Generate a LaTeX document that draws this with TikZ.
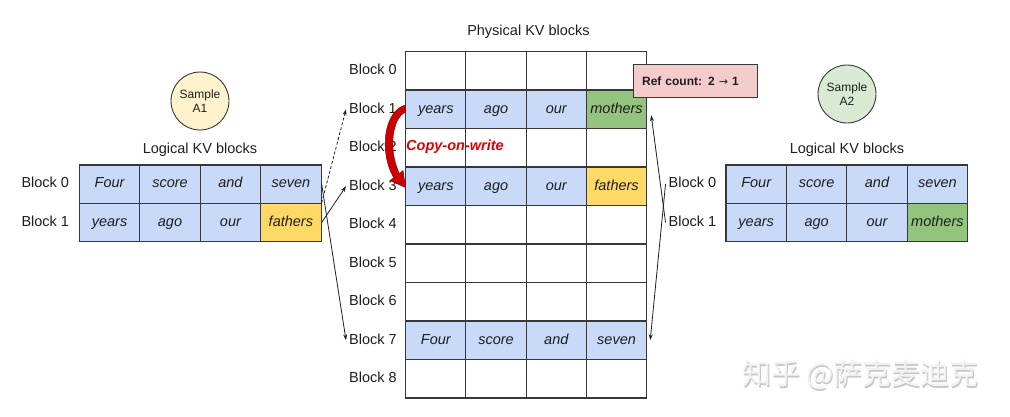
\documentclass[tikz,border=0pt]{standalone}
\usepackage{fontspec}
\setmainfont{Liberation Sans}
\newfontfamily\cjk{Noto Sans CJK SC}
\newfontfamily\dvs{DejaVu Sans}
\usetikzlibrary{arrows.meta,calc}
\definecolor{linec}{HTML}{383838}
\definecolor{textc}{HTML}{1E1E1E}
\definecolor{bluec}{HTML}{C9DAF8}
\definecolor{yelc}{HTML}{FFD966}
\definecolor{grnc}{HTML}{93C47D}
\definecolor{sa1c}{HTML}{FFF2CC}
\definecolor{sa2c}{HTML}{D9EAD3}
\definecolor{refc}{HTML}{F4CCCC}
\definecolor{cowred}{HTML}{E00000}
\definecolor{arrred}{HTML}{CC0000}
\begin{document}
\begin{tikzpicture}[x=1pt,y=-1pt,
  cell/.style={draw=linec, line width=1.1pt, minimum width=60.25pt, minimum height=38.5pt,
    inner sep=0pt, text height=10.5pt, text depth=3pt, text=textc,
    font=\itshape\fontsize{14.5}{17}\selectfont},
  lcell/.style={cell, minimum width=60.45pt, minimum height=38.3pt},
  rcell/.style={cell, minimum width=60.4pt, minimum height=38.3pt},
  bluecell/.style={fill=bluec},
  yelcell/.style={fill=yelc},
  grncell/.style={fill=grnc},
  lbl/.style={text=textc, inner sep=3pt, text height=10.5pt, text depth=3pt,
    font=\fontsize{14.5}{17}\selectfont},
  title/.style={text=textc, inner sep=0pt, font=\fontsize{14.5}{17}\selectfont},
  sample/.style={circle, draw=linec, line width=0.9pt, minimum size=58pt, inner sep=0pt,
    align=center, text=textc, font=\fontsize{12}{13.5}\selectfont},
  conn/.style={draw=black!88, line width=0.8pt, -{Stealth[length=6pt,width=4pt]}},
]
\useasboundingbox (0,0) rectangle (1010,416);
\fill[white] (0,0) rectangle (1010,416);

% ---------- Physical KV blocks ----------
\node[title] (ptitle) at (528.5,32) {Physical KV blocks};
\foreach \r in {0,2,4,5,6,8}
  \foreach \c in {0,...,3}
    \node[cell] (p-\r-\c) at ({435.8+60.25*\c},{70.75+38.5*\r}) {};
\foreach \w/\s [count=\c from 0] in {years/bluecell, ago/bluecell, our/bluecell, mothers/grncell}
  \node[cell,\s] (p-1-\c) at ({435.8+60.25*\c},{70.75+38.5*1}) {\w};
\foreach \w/\s [count=\c from 0] in {years/bluecell, ago/bluecell, our/bluecell, fathers/yelcell}
  \node[cell,\s] (p-3-\c) at ({435.8+60.25*\c},{70.75+38.5*3}) {\w};
\foreach \w/\s [count=\c from 0] in {Four/bluecell, score/bluecell, and/bluecell, seven/bluecell}
  \node[cell,\s] (p-7-\c) at ({435.8+60.25*\c},{70.75+38.5*7}) {\w};
\foreach \r in {0,...,8}
  \node[lbl] (pb\r) at (373,{70.75+38.5*\r}) {Block \r};

% ---------- Sample A1 ----------
\node[sample, fill=sa1c] (sa1) at (200,101) {Sample\\A1};
\node[title] (ltitle) at (200,150) {Logical KV blocks};
\foreach \w/\s [count=\c from 0] in {Four/bluecell, score/bluecell, and/bluecell, seven/bluecell}
  \node[lcell,\s] (la-0-\c) at ({109.55+60.45*\c},184.15) {\w};
\foreach \w/\s [count=\c from 0] in {years/bluecell, ago/bluecell, our/bluecell, fathers/yelcell}
  \node[lcell,\s] (la-1-\c) at ({109.55+60.45*\c},222.45) {\w};
\node[lbl] (lb0) at (45.3,184.15) {Block 0};
\node[lbl] (lb1) at (45.3,222.45) {Block 1};

% ---------- Sample A2 ----------
\node[sample, fill=sa2c] (sa2) at (847,94) {Sample\\A2};
\node[title] (rtitle) at (847,150) {Logical KV blocks};
\foreach \w/\s [count=\c from 0] in {Four/bluecell, score/bluecell, and/bluecell, seven/bluecell}
  \node[rcell,\s] (ra-0-\c) at ({756.2+60.4*\c},184.15) {\w};
\foreach \w/\s [count=\c from 0] in {years/bluecell, ago/bluecell, our/bluecell, mothers/grncell}
  \node[rcell,\s] (ra-1-\c) at ({756.2+60.4*\c},222.45) {\w};
\node[lbl] (rb0) at (692.5,184.15) {Block 0};
\node[lbl] (rb1) at (692.5,222.45) {Block 1};

% ---------- Ref count box ----------
\node[draw=linec, line width=0.9pt, fill=refc, anchor=west, inner xsep=9pt, inner ysep=0pt,
      text width=106pt, align=left, minimum height=33.7pt, text=textc,
      font=\bfseries\fontsize{12}{14}\selectfont] (ref) at (632.7,80.8)
      {Ref count: 2 {\dvs\mdseries\fontsize{11}{12}\selectfont →} 1};

% ---------- connectors ----------
\draw[conn, dash pattern=on 3pt off 2pt] (la-1-3.north east) -- (pb1.west);
\draw[conn] (la-1-3.east) -- (pb3.west);
\draw[conn] (la-0-3.east) -- (pb7.west);
\draw[conn] (rb0.west) -- ([xshift=3pt]p-7-3.east);
\draw[conn] (rb1.west) -- ([xshift=4pt,yshift=-6pt]p-1-3.east);

% ---------- copy-on-write arrow ----------
\fill[arrred, draw=arrred!70!black, line width=0.5pt]
  (405.5,105) .. controls (385,110) and (378,150) .. (393.8,177.9)
  -- (390,180.5) -- (405.5,187.5) -- (403,170.5) -- (399.4,173.7)
  .. controls (388,150) and (392,118) .. (405.5,112) -- cycle;
\node[anchor=west, inner sep=0pt, text=cowred,
      font=\bfseries\itshape\fontsize{14.5}{17}\selectfont] (cow) at (406,147) {Copy-on-write};

% ---------- watermark ----------
\node[text=black!22, font=\cjk\fontsize{29}{32}\selectfont, inner sep=0pt] (wm0) at (861.5,376.5) {知乎 @萨克麦迪克};
\node[text=black!5, font=\cjk\fontsize{29}{32}\selectfont, inner sep=0pt] (wm) at (860.5,375) {知乎 @萨克麦迪克};
\end{tikzpicture}
\end{document}
